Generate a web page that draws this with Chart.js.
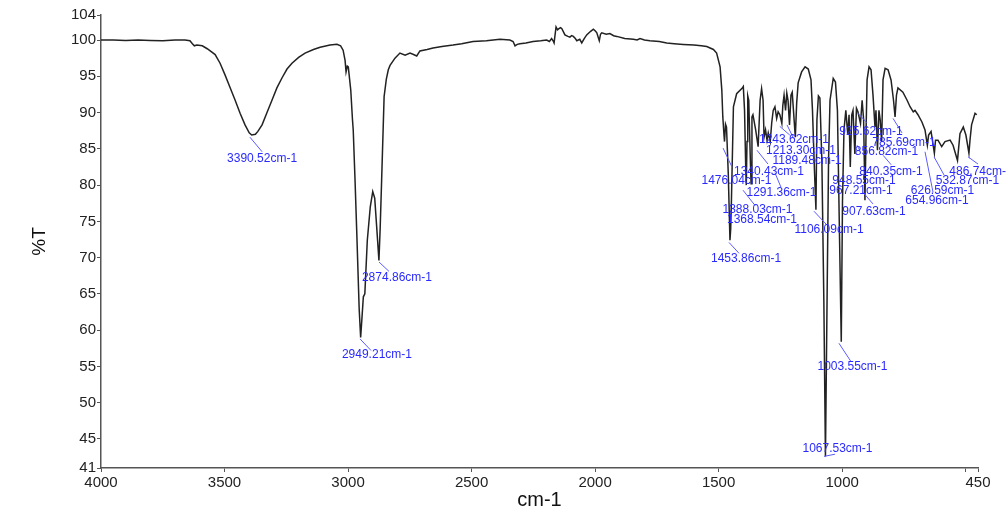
<!DOCTYPE html>
<html>
<head>
<meta charset="utf-8">
<script src="https://cdn.jsdelivr.net/npm/chart.js@4.4.1/dist/chart.umd.min.js"></script>
<style>
    html, body { margin: 0; padding: 0; background: #fff; }
    #caixa { width: 1006px; height: 512px; }
</style>
</head>
<body>
<div id="caixa"><canvas id="espectro"></canvas></div>
<script>
// Espectro IR - numero de onda (cm-1) e %T
const numerosOnda = [
    4000, 3950, 3900, 3850, 3800, 3750, 3700, 3660, 3640, 3630, 3622, 3612, 3590, 3570, 3538, 3518,
    3498, 3478, 3457, 3437, 3417, 3400, 3390, 3375, 3365, 3348, 3328, 3308, 3288, 3267, 3247, 3227,
    3200, 3174, 3140, 3113, 3073, 3045, 3030, 3020, 3012, 3008, 3003, 2999, 2989, 2982, 2979, 2972,
    2965, 2955, 2949, 2944, 2938, 2932, 2922, 2910, 2900, 2892, 2884, 2875, 2870, 2864, 2854, 2845,
    2837, 2830, 2810, 2790, 2769, 2749, 2735, 2722, 2709, 2680, 2656, 2620, 2575, 2540, 2494, 2440,
    2385, 2345, 2332, 2324, 2315, 2304, 2280, 2251, 2220, 2196, 2185, 2176, 2170, 2166, 2158, 2152,
    2149, 2140, 2135, 2122, 2110, 2102, 2095, 2088, 2080, 2074, 2062, 2054, 2044, 2034, 2018, 2007,
    1998, 1993, 1983, 1978, 1973, 1955, 1940, 1925, 1912, 1880, 1845, 1830, 1818, 1800, 1778, 1740,
    1710, 1680, 1643, 1600, 1570, 1548, 1521, 1508, 1494, 1487, 1483, 1478, 1476, 1472, 1468, 1461,
    1456, 1454, 1451, 1448, 1440, 1427, 1406, 1400, 1395, 1390, 1388, 1385, 1382, 1378, 1372, 1368.5,
    1365, 1361, 1350, 1340, 1332, 1326, 1320, 1316, 1310, 1304, 1299, 1291, 1285, 1279, 1272, 1265,
    1259, 1252, 1244, 1240, 1235, 1229, 1224, 1219, 1213, 1207, 1202, 1197, 1189.5, 1184, 1178, 1164,
    1150, 1137, 1126, 1120, 1112, 1106, 1102, 1096, 1090, 1082, 1074, 1067.5, 1061, 1055, 1049, 1036,
    1027, 1019, 1013, 1003.5, 998.5, 992.5, 985, 977, 972, 967, 961, 956, 948.5, 942, 936, 925.6,
    919, 913, 907.6, 903, 899, 891, 883, 875, 867, 863, 857, 851, 846, 840, 834.5, 826,
    814, 802, 792, 785.7, 780, 774, 754, 737, 725, 712, 705, 693, 677, 664.5, 655, 650,
    640, 626.6, 622, 612, 597, 583.6, 563, 551, 533, 523, 509.5, 499, 486.7, 482.4, 476, 462,
    455
];
const transmitancia = [
    100.0, 100.0, 99.95, 100.0, 99.95, 99.9, 100.0, 100.0, 99.9, 99.5, 99.2, 99.3, 99.2, 98.8, 98.0, 96.8,
    95.2, 93.5, 91.7, 89.9, 88.3, 87.2, 86.9, 87.0, 87.4, 88.3, 90.0, 91.7, 93.4, 94.8, 96.0, 96.8,
    97.6, 98.2, 98.7, 99.0, 99.3, 99.4, 99.2, 98.6, 97.2, 95.6, 96.4, 96.3, 93.1, 89.0, 87.6, 81.0,
    73.8, 63.0, 59.0, 61.5, 64.6, 65.0, 72.4, 77.0, 79.1, 78.2, 74.2, 69.6, 74.0, 80.7, 92.2, 94.6,
    95.9, 96.5, 97.5, 98.2, 97.9, 98.2, 98.0, 97.8, 98.5, 98.7, 98.9, 99.1, 99.3, 99.5, 99.8, 99.9,
    100.1, 100.0, 99.8, 99.2, 99.4, 99.5, 99.6, 99.8, 99.9, 100.0, 99.8, 100.2, 99.9, 99.6, 101.8, 101.4,
    101.5, 101.7, 101.6, 100.7, 100.5, 100.4, 100.6, 100.5, 100.2, 99.9, 100.1, 99.6, 100.2, 100.7, 101.2, 101.5,
    101.2, 101.0, 99.9, 100.8, 101.0, 100.8, 100.9, 100.6, 100.5, 100.2, 100.1, 100.0, 100.2, 100.0, 99.9, 99.8,
    99.6, 99.5, 99.4, 99.3, 99.2, 99.1, 98.7, 98.2, 96.3, 93.1, 89.4, 86.8, 86.0, 88.4, 88.0, 81.7,
    75.0, 72.4, 74.0, 78.0, 90.8, 92.6, 93.3, 93.6, 90.3, 82.0, 80.0, 86.0, 92.3, 91.7, 84.0, 80.2,
    89.4, 89.7, 87.6, 85.3, 91.7, 93.3, 91.7, 86.6, 87.6, 86.2, 87.2, 86.0, 88.6, 90.3, 90.8, 89.2,
    90.1, 89.7, 88.5, 91.0, 92.4, 90.3, 92.7, 91.7, 88.3, 92.4, 92.8, 90.3, 86.6, 91.3, 94.1, 95.6,
    96.3, 96.0, 94.5, 90.3, 82.0, 76.6, 89.0, 92.3, 92.0, 83.4, 64.1, 42.6, 64.1, 83.4, 91.7, 94.7,
    94.2, 90.3, 77.9, 58.4, 77.9, 87.6, 90.3, 86.9, 89.7, 82.5, 89.7, 90.3, 84.3, 90.6, 90.1, 88.5,
    91.7, 89.0, 77.9, 87.6, 94.5, 96.3, 95.9, 92.4, 88.0, 90.3, 84.8, 90.3, 89.0, 86.0, 94.5, 96.1,
    95.9, 94.5, 91.7, 89.4, 92.4, 93.4, 92.8, 91.7, 90.8, 90.1, 90.3, 89.7, 88.7, 87.6, 85.5, 86.9,
    87.4, 84.4, 86.2, 86.2, 85.3, 86.0, 86.2, 85.5, 83.4, 87.1, 88.0, 86.9, 84.4, 86.2, 88.3, 89.9,
    89.7
];

// marcacoes dos eixos
const ticksX = [4000, 3500, 3000, 2500, 2000, 1500, 1000, 500, 450];
const ticksY = [41, 45, 50, 55, 60, 65, 70, 75, 80, 85, 90, 95, 100, 103.45];

// rotulos dos picos (posicao do texto em cm-1 / %T)
const rotulosPicos = [
    '3390.52cm-1', '2949.21cm-1', '2874.86cm-1', '1476.04cm-1', '1453.86cm-1', '1388.03cm-1',
    '1368.54cm-1', '1340.43cm-1', '1291.36cm-1', '1243.62cm-1', '1213.30cm-1', '1189.48cm-1',
    '1106.09cm-1', '1067.53cm-1', '1003.55cm-1', '967.21cm-1', '948.55cm-1', '925.62cm-1',
    '907.63cm-1', '856.82cm-1', '840.35cm-1', '785.69cm-1', '654.96cm-1', '626.59cm-1',
    '532.87cm-1', '486.74cm-1'
];
const rotuloOnda = [3348, 2883, 2802, 1427.6, 1389, 1342.5, 1324.3, 1296, 1245.4, 1194.8, 1166.5, 1142.2,
    1053, 1018.7, 958, 923.6, 911.5, 883, 871, 820.4, 802, 749.5, 616, 593.7, 492.5, 437.8];
const rotuloT = [83.7, 56.6, 67.2, 80.6, 69.8, 76.6, 75.2, 81.8, 79.0, 86.3, 84.8, 83.4,
    73.8, 43.7, 55.0, 79.2, 80.6, 87.3, 76.4, 84.6, 81.8, 85.9, 77.8, 79.2, 80.6, 81.9];

// linhas guia: [onda1, T1, onda2, T2] (null = sem linha)
const linhasGuia = [
    [3397, 86.6, 3348, 84.6], [2951.6, 58.8, 2907, 57.2], [2874.7, 69.4, 2834, 68.1],
    [1482, 85.1, 1446, 82.5], [1458, 72.1, 1417.4, 70.6], [1401.3, 79.3, 1352.7, 77.2],
    null, [1344.6, 84.8, 1300, 82.9], [1272, 81.7, 1247.4, 79.7],
    [1252.5, 88.1, 1212, 86.9], [1223.1, 88.3, 1198.8, 86.6], null,
    [1114, 76.4, 1061.5, 74.5], [1073.4, 42.6, 1028.9, 42.9], [1013, 58.2, 964.7, 55.7],
    null, null, [936.1, 89.9, 899.7, 88.6],
    [915.5, 79.0, 875, 77.4], [939.7, 85.5, 927.6, 84.7], [833.8, 84.1, 801.4, 82.8],
    [794, 89.2, 757.6, 87.2], null, [664.5, 84.6, 632, 79.0],
    [628, 83.9, 587.6, 81.4], [490.4, 83.9, 450, 82.9]
];

const fonteBase = 'Liberation Sans, Arial, sans-serif';

// plugin simples para escrever os picos
const pluginPicos = {
    id: 'picos',
    afterDatasetsDraw(chart) {
        const ctx = chart.ctx;
        const sx = chart.scales.x;
        const sy = chart.scales.y;
        ctx.save();
        ctx.strokeStyle = '#5b5bff';
        ctx.lineWidth = 1;
        linhasGuia.forEach(function (l) {
            if (!l) return;
            ctx.beginPath();
            ctx.moveTo(sx.getPixelForValue(l[0]), sy.getPixelForValue(l[1]));
            ctx.lineTo(sx.getPixelForValue(l[2]), sy.getPixelForValue(l[3]));
            ctx.stroke();
        });
        ctx.fillStyle = '#2a2aff';
        ctx.font = '12px ' + fonteBase;
        ctx.textAlign = 'center';
        ctx.textBaseline = 'middle';
        for (let i = 0; i < rotulosPicos.length; i++) {
            ctx.fillText(rotulosPicos[i], sx.getPixelForValue(rotuloOnda[i]), sy.getPixelForValue(rotuloT[i]));
        }
        ctx.restore();
    }
};

const pontos = numerosOnda.map((w, i) => ({ x: w, y: transmitancia[i] }));

new Chart(document.getElementById('espectro'), {
    type: 'line',
    data: {
        datasets: [{
            data: pontos,
            borderColor: '#222',
            borderWidth: 1.5,
            pointRadius: 0,
            tension: 0,
            fill: false
        }]
    },
    options: {
        responsive: true,
        maintainAspectRatio: false,
        animation: false,
        layout: { padding: { top: 15, right: 28, left: 0, bottom: 0 } },
        plugins: { legend: { display: false }, tooltip: { enabled: false } },
        scales: {
            x: {
                type: 'linear',
                reverse: true,
                min: 450,
                max: 4000,
                afterBuildTicks: (scale) => { scale.ticks = ticksX.map(v => ({ value: v })); },
                afterFit: (scale) => { scale.height = 44; },
                ticks: {
                    autoSkip: false,
                    maxRotation: 0,
                    padding: 2,
                    color: '#222',
                    font: { family: fonteBase, size: 15 },
                    callback: (v) => (v === 500 ? '' : v)
                },
                grid: { drawOnChartArea: false, drawTicks: true, tickLength: 4, color: '#555' },
                border: { color: '#555', width: 1.5 },
                title: {
                    display: true,
                    text: 'cm-1',
                    color: '#111',
                    font: { family: fonteBase, size: 20 },
                    padding: { top: 0, bottom: 0 }
                }
            },
            y: {
                type: 'linear',
                min: 41,
                max: 103.45,
                afterBuildTicks: (scale) => { scale.ticks = ticksY.map(v => ({ value: v })); },
                afterFit: (scale) => { scale.width = 101; },
                ticks: {
                    autoSkip: false,
                    padding: 1,
                    color: '#222',
                    font: { family: fonteBase, size: 15 },
                    callback: (v) => (v > 103 ? '104' : v)
                },
                grid: { drawOnChartArea: false, drawTicks: true, tickLength: 4, color: '#555' },
                border: { color: '#555', width: 1.5 },
                title: {
                    display: true,
                    text: '%T',
                    color: '#111',
                    font: { family: fonteBase, size: 19 },
                    padding: { top: 28, bottom: 0 }
                }
            }
        }
    },
    plugins: [pluginPicos]
});
</script>
</body>
</html>
